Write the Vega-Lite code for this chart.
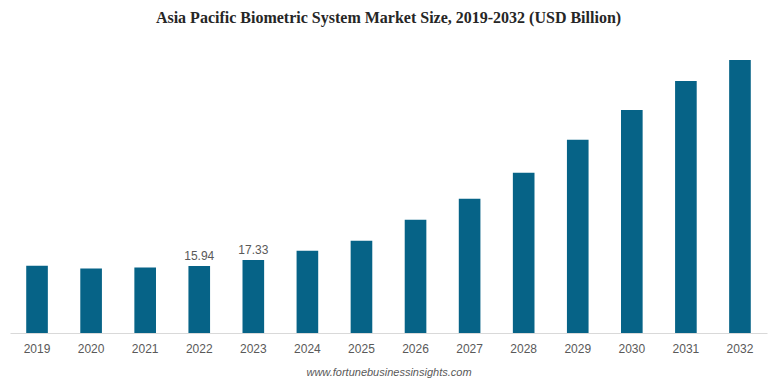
{
  "$schema": "https://vega.github.io/schema/vega-lite/v6.json",
  "autosize": "none",
  "width": 757,
  "height": 294.4,
  "padding": {"left": 10, "top": 38.6, "right": 3, "bottom": 52},
  "background": "white",
  "title": {
    "text": "Asia Pacific Biometric System Market Size, 2019-2032 (USD Billion)",
    "font": "Liberation Serif",
    "fontSize": 16,
    "fontWeight": "bold",
    "color": "#262626",
    "anchor": "middle",
    "baseline": "alphabetic",
    "offset": 0
  },
  "data": {
    "values": [
      {"year": "2019", "value": 16.0},
      {"year": "2020", "value": 15.36},
      {"year": "2021", "value": 15.6},
      {"year": "2022", "value": 15.94},
      {"year": "2023", "value": 17.33},
      {"year": "2024", "value": 19.57},
      {"year": "2025", "value": 21.95},
      {"year": "2026", "value": 26.95},
      {"year": "2027", "value": 31.94},
      {"year": "2028", "value": 38.1},
      {"year": "2029", "value": 45.97},
      {"year": "2030", "value": 53.03},
      {"year": "2031", "value": 59.93},
      {"year": "2032", "value": 64.92}
    ]
  },
  "encoding": {
    "x": {
      "field": "year",
      "type": "ordinal",
      "scale": {"paddingInner": 0.6, "paddingOuter": 0.3},
      "axis": {
        "title": "www.fortunebusinessinsights.com",
        "titleFont": "Liberation Sans",
        "titleFontSize": 11,
        "titleFontStyle": "italic",
        "titleFontWeight": "normal",
        "titleColor": "#595959",
        "titlePadding": 12,
        "labelAngle": 0,
        "labelFont": "Liberation Sans",
        "labelFontSize": 12,
        "labelColor": "#595959",
        "labelPadding": 10,
        "ticks": false,
        "domainColor": "#d9d9d9",
        "domainWidth": 1,
        "grid": false
      }
    },
    "y": {
      "field": "value",
      "type": "quantitative",
      "scale": {"domain": [0, 70]},
      "axis": null
    }
  },
  "layer": [
    {"mark": {"type": "bar", "color": "#066387"}},
    {
      "transform": [{"filter": "datum.year == '2022' || datum.year == '2023'"}],
      "mark": {
        "type": "text",
        "baseline": "bottom",
        "dy": -3,
        "font": "Liberation Sans",
        "fontSize": 12,
        "color": "#595959"
      },
      "encoding": {"text": {"field": "value", "type": "quantitative", "format": ".2f"}}
    }
  ],
  "config": {"view": {"stroke": null}}
}
